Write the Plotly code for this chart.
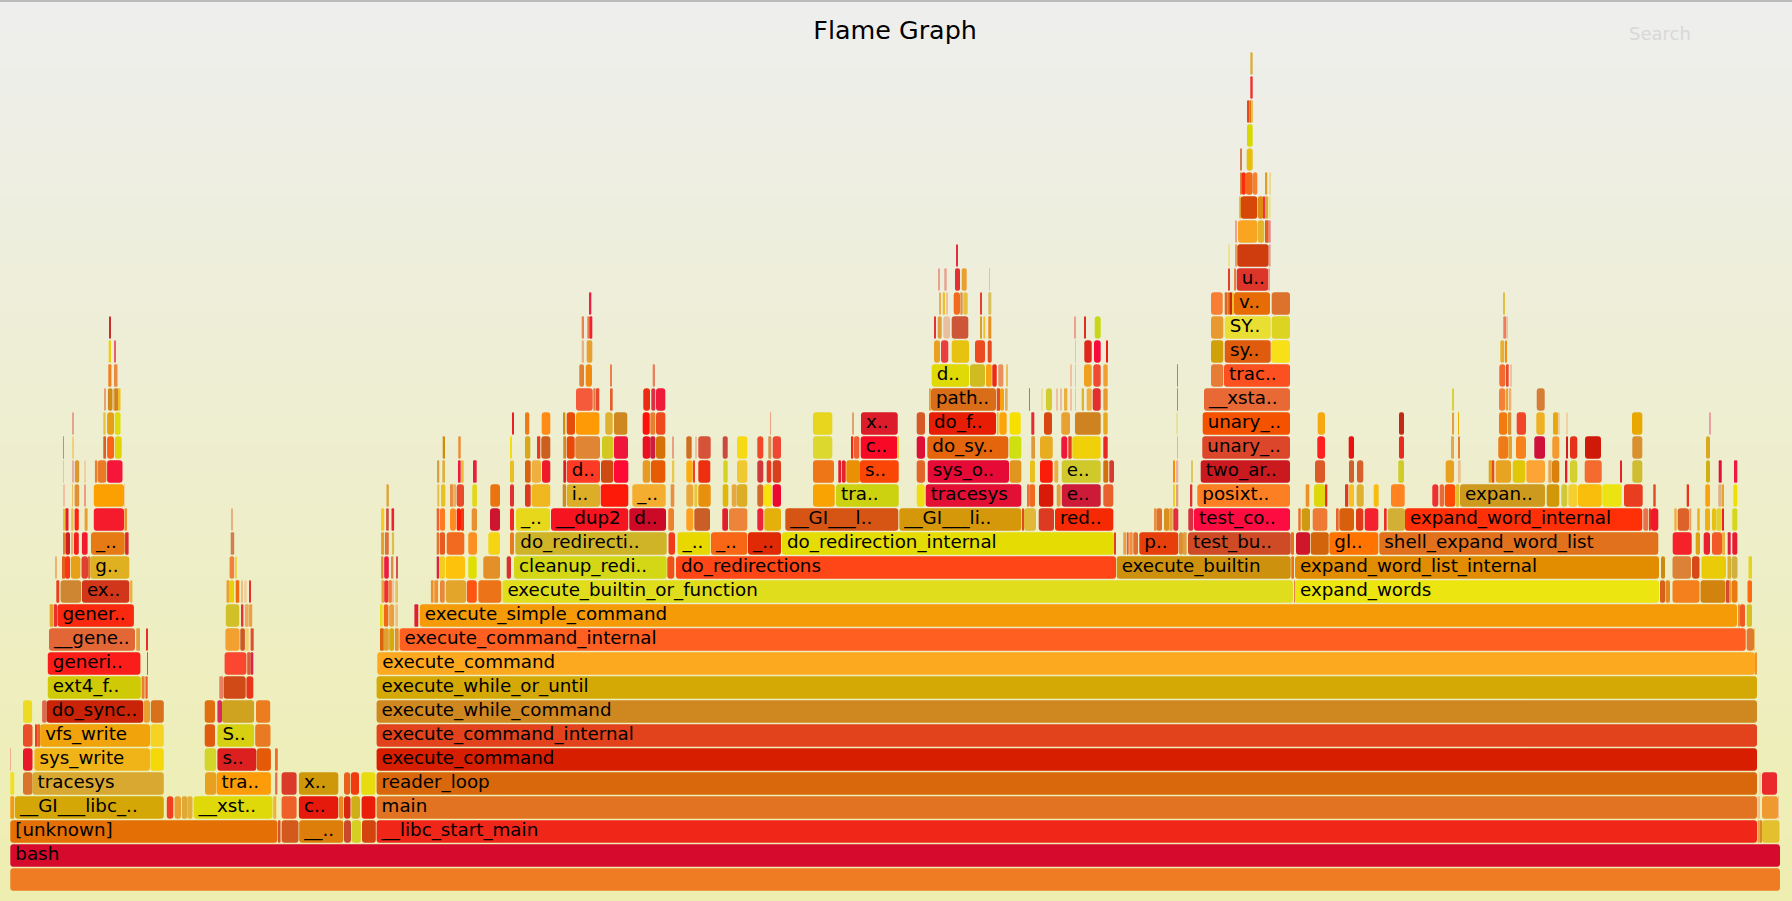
import plotly.graph_objects as go

# Frames per stack depth: (first sample, last sample), then the colour of each frame
spans_0 = [(10.3, 1780)]
colors_0 = ["#ef7b22"]
spans_1 = [(10.3, 1780)]
colors_1 = ["#d60a2c"]
spans_2 = [(10.3, 277.4), (278, 280.5), (281.6, 298.5), (299.2, 343.3), (344, 351), (351.7, 360.9), (362, 375.8), (376.6, 1757), (1757.5, 1759.5), (1759.5, 1762), (1762, 1779.5)]
colors_2 = ["#e36f05", "#d9502a", "#d35a1c", "#dd7d0a", "#c84a2a", "#d4cf22", "#d4440f", "#f02618", "#e8a040", "#d8882a", "#e3c02d"]
spans_3 = [(10.3, 14.2), (14.9, 163.8), (166.8, 173.3), (174.5, 181), (181.8, 187.5), (187.5, 192.5), (193.6, 272.5), (273.2, 276.3), (281.6, 296.6), (298.9, 338.3), (339, 343.3), (344, 350.5), (351.3, 360), (361.6, 375.4), (376.6, 1757), (1757.5, 1760), (1762, 1778), (1778, 1779)]
colors_3 = ["#f59a10", "#d4a707", "#f04020", "#e8a030", "#e0a835", "#e3b13a", "#dfd90a", "#eeb040", "#ef5f2a", "#e5190c", "#e88a20", "#d8280f", "#cfae18", "#ea1d0a", "#e27322", "#f0c090", "#ef9a30", "#f0c090"]
spans_4 = [(10.3, 14.2), (23, 32.5), (32.5, 163.8), (205, 216.2), (216.6, 270.9), (275.1, 277.4), (281.6, 296.6), (298.9, 338.3), (344, 350.2), (350.9, 359), (361.3, 375.4), (376.6, 1757), (1759.5, 1761), (1762, 1777)]
colors_4 = ["#f0e020", "#d8752a", "#d8a831", "#e8a020", "#fb9c08", "#e07050", "#d93a2a", "#cf980a", "#e86020", "#f03a10", "#e8dc10", "#d9680c", "#f3d3a0", "#ea2a2a"]
spans_5 = [(10.3, 11), (23, 32.5), (34.4, 150), (150.4, 163.8), (204.7, 216.2), (217.4, 256.4), (256.8, 270.9), (275.9, 277.8), (376.6, 1757)]
colors_5 = ["#f0b090", "#e8182a", "#f0b418", "#f5d80a", "#d4d52a", "#dc2020", "#e55a08", "#f06a30", "#d81e00"]
spans_6 = [(23, 32.5), (35.2, 37.1), (37.1, 40.2), (40.2, 150), (150.4, 163.8), (204.7, 215), (217.4, 254.1), (255.2, 270.5), (376.6, 1757)]
colors_6 = ["#eb4d28", "#e64020", "#e8602a", "#f0a30a", "#f5d325", "#e05a10", "#d6d010", "#ea7a22", "#e2431c"]
spans_7 = [(23, 32.1), (42.1, 46.7), (46.7, 143.1), (143.5, 150), (150.8, 163.8), (204.7, 215), (217.4, 222), (222, 254.1), (256, 270.2), (376.6, 1757)]
colors_7 = ["#ecdb22", "#dc6a50", "#c92308", "#e8a030", "#d8701c", "#e0700f", "#d82a60", "#cfa31f", "#eb7d20", "#cf8720"]
spans_8 = [(47.8, 140.8), (141.6, 144.6), (145.4, 147.7), (219.3, 223), (223.5, 245.7), (246.4, 253.3), (376.6, 1757)]
colors_8 = ["#cfca05", "#e88030", "#e8602a", "#e88060", "#d04a18", "#e8361a", "#d4a906"]
spans_9 = [(47.8, 140.4), (147, 147.7), (224.6, 246.4), (247.2, 250.6), (250.6, 253.3), (377.3, 1755), (1755, 1756.5)]
colors_9 = ["#fb1d1a", "#e05030", "#fb4630", "#e05a30", "#d8284a", "#fca91f", "#f39030"]
spans_10 = [(49, 135), (136.2, 140), (146.6, 147.7), (225.4, 239.5), (240.3, 244.9), (245.3, 248.7), (250.6, 253.7), (380, 383.8), (383.8, 388.8), (389.2, 394.1), (394.9, 398.7), (399.5, 1745.7), (1746.7, 1754), (1754, 1755)]
colors_10 = ["#e36636", "#e0a040", "#e8302a", "#f2a030", "#cc5a25", "#f3d070", "#e05030", "#d8650c", "#dfa030", "#d8a810", "#e09030", "#ff5f20", "#e07a30", "#e8c060"]
spans_11 = [(49.7, 53.6), (54, 57), (57.4, 133.9), (225.8, 239.2), (241.5, 243.4), (244.9, 248.7), (249.1, 252.2), (380, 382.7), (383.8, 388.4), (389.2, 394.1), (395.3, 398), (414.4, 418.3), (419.8, 1737), (1738.5, 1740), (1740, 1745), (1746.7, 1752)]
colors_11 = ["#e8a028", "#e83030", "#f8290f", "#d2c028", "#e83030", "#f0a860", "#e8a040", "#ecdc20", "#ef6a18", "#e8a040", "#f0c080", "#e02030", "#f59b08", "#e89030", "#f05a20", "#d4c020"]
spans_12 = [(56.3, 59.3), (60.5, 81.1), (81.9, 129.3), (130.1, 132.4), (226.5, 229.6), (229.6, 234.2), (235.7, 239.2), (241.1, 243), (244.9, 246.8), (249.1, 250.6), (381.5, 384.2), (384.2, 388.4), (388.4, 391.9), (392.2, 394.1), (395.3, 398), (430.9, 433.6), (434.3, 438.1), (440, 444.7), (445.8, 466.1), (466.8, 476.8), (478.3, 501.3), (502.4, 1293), (1294, 1295), (1295, 1659), (1660, 1665), (1665.5, 1670), (1672.5, 1699.5), (1700.5, 1725.5), (1726, 1729.5), (1729.5, 1730.5), (1731.5, 1737.5), (1747.5, 1752)]
colors_12 = ["#e84020", "#ce8632", "#d1361a", "#e8b040", "#e8a030", "#e8d010", "#f06a10", "#e8c080", "#f0d0a0", "#e83030", "#e8a040", "#f03030", "#f08040", "#f0c0a0", "#e8c060", "#e89030", "#f0902a", "#e88838", "#e3a62a", "#ff5510", "#ed7318", "#dfdd1c", "#e8805a", "#ece50f", "#d8601c", "#e08a20", "#f47f1d", "#d1830e", "#d84a30", "#e8a030", "#e87a10", "#ff6a10"]
spans_13 = [(55.9, 57), (62, 65), (65, 70), (70.8, 80.4), (81.5, 88), (88.8, 90.3), (90.3, 129.3), (229.6, 234.2), (235.7, 236.5), (381.1, 383.4), (384.2, 388.8), (391.5, 393.4), (396.4, 398), (436.7, 439), (439.3, 445), (445.7, 465), (468.3, 476.7), (483.3, 500), (506.7, 511), (514, 666.7), (667.3, 674.3), (676, 1116), (1116.7, 1290.7), (1291.3, 1294), (1295, 1659), (1661, 1665), (1672.5, 1691), (1692, 1699.5), (1701.5, 1726), (1727.5, 1731), (1731.5, 1737.5), (1748.5, 1752)]
colors_13 = ["#f0b070", "#e06020", "#ff3410", "#e8a018", "#e04030", "#e07040", "#dfb01f", "#f0803a", "#e8d850", "#e09030", "#ee1a40", "#e08a50", "#d85050", "#e02040", "#f5cc20", "#fdc30c", "#dfe000", "#e39028", "#d83030", "#d3d716", "#f0501a", "#fe4616", "#cd910e", "#e8701c", "#e28c00", "#ce8a10", "#dc8236", "#d64a18", "#e9cb08", "#dbb030", "#d0b040", "#e3d41c"]
spans_14 = [(63.5, 65), (65.4, 70), (71.2, 72.7), (73.9, 78.8), (81.9, 87.6), (91, 124.7), (125.1, 128.6), (230.7, 234.2), (381.1, 384.2), (385, 388.8), (391.9, 394.1), (436.7, 439), (439.7, 445), (446.7, 464.3), (468.3, 477), (488.3, 500), (510, 514), (515.3, 666.7), (668.5, 675), (677.5, 710.3), (711, 747.3), (748, 781), (782, 1114), (1114.7, 1116), (1123.3, 1126), (1126.7, 1128.7), (1129.3, 1132.7), (1133.3, 1138), (1139.3, 1178.3), (1179, 1183), (1183, 1186.7), (1188, 1290.7), (1291, 1294), (1296, 1310), (1310.7, 1328.7), (1329.3, 1378.3), (1379.3, 1658.3), (1672.7, 1691.7), (1695.7, 1700), (1703.7, 1710), (1712, 1722), (1722, 1725), (1727.7, 1730.7), (1732.3, 1737.3)]
colors_14 = ["#e08030", "#d01f1f", "#f0b070", "#ef2020", "#f21a30", "#e67a14", "#d82a30", "#d08050", "#e0a030", "#e07040", "#d8c050", "#e87030", "#e75b20", "#f26a20", "#fc9020", "#f5d414", "#e87a20", "#d0b428", "#f03a18", "#e9d800", "#f76715", "#e02a05", "#e4dc02", "#e04020", "#e8a040", "#e86030", "#f09040", "#e07030", "#e63f0c", "#d89030", "#e0a040", "#ce4b26", "#e8701c", "#d0162b", "#d2640b", "#ff7300", "#e2711d", "#f5222a", "#dea010", "#ea2030", "#f05a28", "#f0b040", "#dc1c40", "#e81c30"]
spans_15 = [(63.5, 65), (65.4, 68.5), (71.2, 73.5), (74.6, 78.8), (84.6, 87.6), (93.8, 124), (124.4, 127), (231.1, 232.3), (381.1, 384.2), (386.1, 388.8), (391.5, 394.1), (436.7, 439.3), (440, 445), (450, 456), (456.7, 461), (461, 464), (471.7, 477), (490, 500), (510, 514), (516, 550), (551, 628.3), (629.3, 666), (668.3, 674), (686.3, 693.3), (694.3, 710), (722.3, 728), (729, 747.3), (757.3, 763.3), (764.3, 781), (785.3, 898.3), (899.3, 1021.3), (1022, 1023.3), (1024, 1036), (1038.7, 1054), (1055, 1113.3), (1154, 1156.7), (1156.7, 1162), (1164, 1169.3), (1169.3, 1172.7), (1173.3, 1178.3), (1188.3, 1193.3), (1194, 1290), (1298.3, 1300.7), (1301.7, 1310), (1312.7, 1327.3), (1336, 1338.7), (1339.3, 1354), (1356, 1363.3), (1364.7, 1378.3), (1384, 1386.7), (1387.7, 1405), (1405, 1642.3), (1643.3, 1648.3), (1649, 1650.7), (1651, 1658.3), (1674.3, 1676.7), (1677.7, 1689), (1689.3, 1691.3), (1697.3, 1699.7), (1705, 1710), (1712, 1716), (1716.3, 1721.7), (1722, 1724), (1732.3, 1737.3)]
colors_15 = ["#e8c040", "#e81c2c", "#e8c050", "#ff2410", "#e8a030", "#f51a2c", "#ee9030", "#e8b080", "#f5ca20", "#d05040", "#ee2030", "#f06030", "#ff7a20", "#ff8a20", "#ff1a00", "#f03a10", "#e69030", "#cf1430", "#f02a20", "#e8d81c", "#f5141f", "#cc0a28", "#f0802a", "#ffa020", "#c95e26", "#e01f2a", "#ec843a", "#f0223a", "#e6b00c", "#d65514", "#d4980a", "#e04a20", "#e1b838", "#dc3a22", "#f52a05", "#e89040", "#e07030", "#d8901c", "#e8a040", "#e03040", "#d83040", "#fd0c42", "#f06a20", "#d09a10", "#ee7a35", "#e8602a", "#d8600c", "#e03a18", "#f5222e", "#e83028", "#d3b035", "#ff3008", "#e8704a", "#e83020", "#f0182a", "#f0b040", "#dc612a", "#e8a060", "#e8b020", "#eeb018", "#e8c010", "#e0d030", "#ee2020", "#d4d818"]
spans_16 = [(63.5, 64.2), (72, 73), (74.6, 79.2), (84.6, 86), (93.8, 124), (124.4, 125), (386.5, 388.8), (437.3, 439.3), (441, 445.3), (450, 453.3), (453.3, 456), (456.7, 464), (472.3, 477), (490.3, 500), (510, 514), (525, 530.7), (531.7, 550.3), (562.7, 566), (566.7, 600), (600.7, 628.3), (632.3, 665.7), (670.7, 674.3), (686.3, 693.3), (694.3, 697.3), (698.3, 710.7), (722.7, 728.3), (731.7, 736.7), (737, 747.3), (757.3, 763.3), (764, 772), (772.7, 781), (813, 834.7), (836, 898.7), (916.7, 924.7), (925.7, 1021.3), (1027.7, 1029.3), (1029.3, 1035), (1039, 1053.3), (1056.7, 1060.7), (1061.7, 1100.7), (1103.3, 1113.3), (1173.3, 1175), (1176, 1178.3), (1190.7, 1192.3), (1197.3, 1290), (1305.7, 1309.3), (1314, 1325), (1325.7, 1327.3), (1345, 1348.3), (1349, 1354), (1356.7, 1363.7), (1373.7, 1378.7), (1391, 1404.7), (1432.3, 1438.3), (1439.7, 1444), (1444.7, 1455.3), (1456, 1459.3), (1460, 1545), (1546.7, 1559.3), (1561.3, 1567.3), (1568.3, 1577.3), (1578, 1601.7), (1602.3, 1621.7), (1624, 1642.7), (1653.3, 1655.7), (1686.7, 1689), (1705.3, 1710), (1718.3, 1721.7), (1722, 1723.3), (1733.3, 1737.3)]
colors_16 = ["#f0c0a0", "#f0c060", "#e09038", "#e8a080", "#fba000", "#f0d0a0", "#e0a030", "#e8c040", "#e8c020", "#e89040", "#e8b060", "#e84a2a", "#e0d818", "#ea7410", "#e03030", "#dc3a1c", "#efb820", "#d08a20", "#dcae28", "#fe1a08", "#f5ad2f", "#e89040", "#eba83a", "#e8c838", "#e8900c", "#e0b80c", "#e8a840", "#dbae25", "#d8682a", "#f9e20c", "#ed0830", "#f9a303", "#ccd20f", "#efdb16", "#e30f35", "#e87040", "#f06a20", "#da1a08", "#e0a040", "#cd1a38", "#e8602e", "#f0d020", "#e0a080", "#e03030", "#fd7f23", "#f09020", "#dcd80c", "#e83020", "#e03a20", "#f8c020", "#e0b030", "#f8bc10", "#ff8420", "#ee3030", "#e86a3a", "#fe4c05", "#e0c030", "#cd9a1e", "#d09808", "#d0c838", "#f3d030", "#f9bd0c", "#ece410", "#ea3d20", "#e04a20", "#ee3020", "#fca00c", "#e0b080", "#e8a030", "#f0e000"]
spans_17 = [(63.5, 64), (72, 74.3), (75, 79.2), (84.6, 85.7), (94.9, 97.2), (97.6, 106.4), (107.1, 122.5), (437.7, 439.3), (442.3, 445), (458, 460.7), (461, 463.7), (473, 476.7), (510, 514), (525, 530.7), (531.7, 541), (542, 550.3), (563.3, 566), (566.7, 600), (601, 613.3), (614, 628.3), (642.7, 650.3), (651, 665.3), (672.7, 674.3), (686.3, 692.7), (693.3, 695), (698.3, 710.3), (723.3, 727.7), (737, 747.3), (757.3, 763.3), (766.7, 771.3), (772.7, 781), (813, 834), (838.3, 841), (841.7, 845.7), (846.3, 860), (860, 898.7), (916.7, 925), (927.7, 1009), (1009.7, 1021.3), (1030, 1035), (1040, 1052.7), (1054.3, 1058.3), (1061.7, 1100.7), (1103.3, 1108.3), (1109.3, 1114), (1173.3, 1175), (1176.7, 1178.3), (1191, 1192.7), (1200.7, 1290), (1315, 1325), (1349, 1354), (1357, 1363.3), (1398.3, 1404), (1445.7, 1454), (1458, 1460.7), (1488.7, 1491.7), (1491.7, 1494.3), (1495.7, 1511), (1512.7, 1525.3), (1526.3, 1545), (1548.3, 1551.7), (1552, 1559.3), (1565, 1567.3), (1570, 1577.3), (1584.7, 1601.7), (1620.3, 1621.7), (1632.3, 1642.3), (1706, 1710), (1718.7, 1721.7), (1734, 1737.3)]
colors_17 = ["#f0c0a0", "#e8b0a0", "#d89a30", "#f0d0a0", "#e88030", "#ea7a28", "#f5163a", "#d8a040", "#e0b040", "#ee1a40", "#e8c030", "#e8203a", "#e8c020", "#d8640f", "#f0b040", "#ee1a2a", "#d8202a", "#fd3a25", "#cf4a12", "#ff0a35", "#e89a25", "#e65c05", "#e8c850", "#fcae10", "#f04030", "#ee2e10", "#d4d420", "#f0c832", "#d0383a", "#e83a20", "#d83f1e", "#ee7616", "#e02030", "#e8202a", "#ea9005", "#fa4606", "#e4652a", "#e60a36", "#e0961e", "#e8c020", "#fa1e0a", "#e8b040", "#cfc92c", "#d0700f", "#d83a30", "#ff8a0a", "#e8b0a0", "#e0c860", "#ca1a20", "#da5a28", "#cf6030", "#d8602c", "#cfcc28", "#e8a020", "#e8c090", "#e0a818", "#e84a20", "#e8a322", "#e0c808", "#fca535", "#e8a850", "#da800c", "#e81e20", "#d4d030", "#f56a2e", "#e8202a", "#d0bc30", "#d0b010", "#e0103a", "#ef1a40"]
spans_18 = [(63.5, 64), (72, 73.5), (103.3, 106), (107.1, 114), (114.8, 121.7), (442.7, 445), (458.3, 460.7), (510.3, 512), (525, 530.3), (537, 540.3), (541.3, 550.3), (563.3, 566), (566.7, 574.7), (575.3, 600), (602, 613.3), (614, 628), (642.7, 650.3), (650.3, 655.3), (656, 665.3), (672.3, 673.3), (686.3, 691.7), (695.3, 696.7), (698.3, 710.7), (722.7, 727.7), (737, 747.3), (757.3, 763.3), (768.3, 771.3), (772.7, 781), (813, 832.3), (851, 853.3), (854, 859.3), (860.7, 897.7), (897.7, 899), (916.7, 925), (927.3, 1008.3), (1009.3, 1021.3), (1031.3, 1035), (1040, 1052.7), (1061.3, 1067.3), (1068.3, 1071.7), (1072.3, 1100.7), (1103.3, 1107.7), (1177, 1178), (1202.3, 1290), (1317.3, 1325), (1348.7, 1354), (1399, 1404), (1451, 1454), (1458, 1459.3), (1498.3, 1508), (1508.3, 1512), (1516, 1526), (1534.3, 1545), (1552.3, 1559.3), (1566, 1567.3), (1570, 1577.3), (1585, 1601), (1632.3, 1642.3), (1706, 1710)]
colors_18 = ["#e08070", "#f0d080", "#d86020", "#ff6018", "#e0d408", "#d08a10", "#f08a30", "#f0e010", "#d8a818", "#e83a20", "#cc5e20", "#d08a20", "#e84808", "#df8534", "#d2c820", "#f0153a", "#ea1020", "#d01a40", "#d47208", "#e8a080", "#cf7020", "#f0c0a0", "#d65238", "#cb4a40", "#f5da14", "#f04828", "#d89050", "#ee4834", "#dcd82e", "#ee2a10", "#f06030", "#f80a26", "#e8d040", "#de1038", "#e4650c", "#cfe010", "#e09838", "#e8ac20", "#f01838", "#e83a20", "#f0d008", "#e82820", "#e0c060", "#dc472c", "#ff2020", "#e81010", "#e82a20", "#e0a850", "#e88030", "#ee7a18", "#e8a030", "#f5821a", "#cf103a", "#f59a30", "#cc2020", "#e6321a", "#cf1a0a", "#d9902e", "#d8a820"]
spans_19 = [(72, 73.5), (103.3, 105.6), (107.1, 114), (114.8, 120.5), (512.3, 513.7), (525, 529.3), (541.7, 550.3), (563, 565.3), (566.7, 575), (576, 599.3), (605.3, 612.7), (614, 627.3), (642.7, 649.7), (650.3, 655.3), (656, 665.3), (770, 771), (813, 832.3), (852.7, 854), (861, 897.7), (916.7, 925), (929, 996), (996.7, 998.7), (999.3, 1006.7), (1009.7, 1020.7), (1031.3, 1034.3), (1044, 1052), (1061.3, 1070), (1075, 1100.7), (1103.3, 1107.7), (1176.7, 1177.7), (1202.7, 1290), (1317.7, 1325), (1399, 1404), (1452.7, 1454), (1458, 1458.7), (1499, 1507.3), (1508, 1511.3), (1516.7, 1526), (1536.3, 1544.7), (1553, 1558.3), (1558.7, 1560), (1566, 1567.7), (1632, 1642.3), (1709.3, 1710.7)]
colors_19 = ["#e8a090", "#e8c040", "#e5a015", "#e0dc08", "#e8202a", "#ee7a18", "#ff8a14", "#d09010", "#e84c08", "#fd9a05", "#e0b030", "#cf8820", "#ff1008", "#e88030", "#ee4a1e", "#e8a080", "#e8d51e", "#e0a070", "#dc1c2a", "#d65a28", "#e71e05", "#e8c040", "#fca50a", "#f7e000", "#e82a30", "#d64810", "#e8a030", "#cf8320", "#e8a820", "#e8e0a0", "#f55200", "#f5a80f", "#c22a18", "#e0a040", "#f0b000", "#f47a10", "#d89030", "#f2452a", "#eeb020", "#e8a810", "#f0d0a0", "#f3d0a0", "#e8a800", "#e8a0a0"]
spans_20 = [(104, 106), (107.9, 112.5), (113, 114.4), (114.4, 118), (118, 120.5), (576, 592.7), (593.3, 595.7), (596, 599.3), (610, 612.7), (643.3, 650), (651.3, 655.3), (656, 665.3), (929, 931), (931, 996), (996.7, 1000), (1000, 1004), (1005, 1007.7), (1029.3, 1030), (1041.7, 1042.7), (1046, 1052), (1056.7, 1057.3), (1060, 1061.3), (1064, 1067.3), (1070.7, 1071.3), (1075, 1075.7), (1081.7, 1084), (1086.7, 1091.7), (1092.7, 1100.7), (1103.3, 1107.7), (1177, 1178), (1204, 1290), (1452.7, 1453.7), (1499, 1505.3), (1506, 1507.7), (1508.7, 1511.3), (1536.7, 1544.7)]
colors_20 = ["#e8a070", "#d08a18", "#e8c040", "#d08030", "#f0c020", "#f55a3a", "#e08040", "#e84a30", "#e06030", "#ee2a10", "#d83040", "#f01a3a", "#e8a040", "#d96d18", "#e04a20", "#f8a010", "#e0b060", "#e06050", "#f0e0a0", "#d2cc30", "#f0c0a0", "#e8c0a0", "#e8b040", "#f0c0a0", "#f0c0a0", "#e0b030", "#f0b040", "#e32e2e", "#e89a30", "#e07070", "#e86836", "#d8d040", "#f5803a", "#e8a030", "#f0b070", "#d67e38"]
spans_21 = [(108.3, 111.4), (114, 117.5), (579.3, 584), (585.7, 592), (610, 611.7), (652.7, 655), (931.7, 969), (970, 985), (986, 991.7), (992.3, 996.7), (998.3, 1003.3), (1006, 1007.7), (1070.7, 1072), (1075, 1076), (1084, 1091.7), (1093.3, 1100.7), (1103.3, 1107.7), (1177, 1178), (1211, 1223.3), (1224, 1290), (1499.3, 1505.3), (1506, 1508.7), (1510, 1511.7)]
colors_21 = ["#f08020", "#e88a40", "#e08030", "#f08a10", "#e88050", "#e88060", "#dfd906", "#d1bb23", "#f5a510", "#f02a10", "#e89060", "#e8c060", "#f0c0a0", "#f0c0a0", "#eea020", "#f04a30", "#f0a030", "#e07050", "#e67c36", "#fd5020", "#f56a30", "#e84a30", "#f0c0a0"]
spans_22 = [(108.7, 111), (114.4, 116), (581.7, 584), (586.7, 592.3), (934, 940), (941, 948.3), (951.7, 969), (975, 985), (987.7, 991.7), (1075, 1076), (1084.3, 1091.7), (1094, 1100.7), (1106, 1107.7), (1211, 1223.3), (1224.7, 1270.7), (1271.3, 1290), (1500.3, 1504.3), (1505, 1506.7)]
colors_22 = ["#ecd010", "#e8606a", "#e8b080", "#e8a030", "#e8a020", "#e84040", "#e7c30f", "#ee4a20", "#e84a20", "#f0c0a0", "#e0281a", "#f80a3a", "#f01a10", "#d1a10a", "#df5c0f", "#f8e018", "#e8b030", "#f09010"]
spans_23 = [(109.4, 110.6), (581.7, 584), (587.3, 589.3), (589.3, 592.3), (934, 935.3), (937.7, 941.7), (943.3, 950), (951.7, 968.3), (980, 982), (983.3, 985.3), (988.3, 991.3), (1074.3, 1075.7), (1084.3, 1085.3), (1094.7, 1100.7), (1211, 1223.3), (1224.7, 1270.7), (1271.7, 1290), (1503.3, 1506), (1506, 1507.3)]
colors_23 = ["#c8302a", "#e88050", "#e88050", "#f02030", "#e83030", "#e0a040", "#e8c0a0", "#cd5638", "#d8a020", "#f0c030", "#e89020", "#e8a090", "#d83020", "#c8d818", "#e89a30", "#e9df32", "#dcd420", "#e88060", "#f0c0a0"]
spans_24 = [(589.7, 591.3), (939.3, 941), (942.7, 945), (946, 947.3), (953.7, 960), (960.3, 962.7), (963.3, 967.7), (980, 982), (988.3, 991.3), (1211, 1222.7), (1224.7, 1227.3), (1227.3, 1229.3), (1229.3, 1232), (1232, 1233.3), (1234, 1270), (1271.7, 1290), (1503.3, 1504.7)]
colors_24 = ["#ee2040", "#e8b050", "#e8c030", "#f0c0a0", "#f06a20", "#e09040", "#e8c040", "#e8402a", "#d8c060", "#f77e32", "#d86a20", "#e87020", "#c82a08", "#f0c030", "#e86c05", "#dd722c", "#e0c040"]
spans_25 = [(938.7, 940), (944.3, 946.7), (955, 960), (961.7, 966.7), (989, 990), (1228, 1230), (1234, 1236), (1236.7, 1268.3), (1268.7, 1270)]
colors_25 = ["#e8a090", "#e8a090", "#e03030", "#e8a030", "#f0c080", "#e0402a", "#e88040", "#de352a", "#e8a090"]
spans_26 = [(956.3, 957.7), (1228, 1229.3), (1235.7, 1237.3), (1237.3, 1268.7), (1268.7, 1270.7)]
colors_26 = ["#e03040", "#f0e090", "#e8a060", "#cf3c0e", "#e0a090"]
spans_27 = [(1235, 1237), (1238, 1257.3), (1257.7, 1264.3), (1265, 1268.7), (1268.7, 1270.7)]
colors_27 = ["#f0a090", "#f9a521", "#e5b42c", "#e06020", "#f08090"]
spans_28 = [(1239.3, 1240.7), (1240.7, 1257.3), (1258, 1263.3), (1263.3, 1265), (1265, 1268), (1268.3, 1270.7)]
colors_28 = ["#e8c040", "#d54808", "#e08a14", "#f03050", "#d8b030", "#f0e090"]
spans_29 = [(1240, 1241.7), (1241.7, 1245.7), (1245.7, 1252.7), (1253, 1257.3), (1265.7, 1267.3), (1269, 1270.7)]
colors_29 = ["#d08a40", "#ff2a10", "#f06a18", "#f58030", "#e0a020", "#f0d890"]
spans_30 = [(1240, 1241.7), (1246.7, 1252.7)]
colors_30 = ["#d08050", "#e6c00a"]
spans_31 = [(1247, 1252.7)]
colors_31 = ["#d8d803"]
spans_32 = [(1247, 1249.3), (1249.3, 1251.7), (1251.7, 1252.7)]
colors_32 = ["#e84a20", "#d87a10", "#e8c050"]
spans_33 = [(1250.3, 1252.7)]
colors_33 = ["#f03030"]
spans_34 = [(1250.3, 1252.7)]
colors_34 = ["#d8b040"]

all_spans = [spans_0, spans_1, spans_2, spans_3, spans_4, spans_5, spans_6, spans_7, spans_8, spans_9,
             spans_10, spans_11, spans_12, spans_13, spans_14, spans_15, spans_16, spans_17, spans_18, spans_19,
             spans_20, spans_21, spans_22, spans_23, spans_24, spans_25, spans_26, spans_27, spans_28, spans_29,
             spans_30, spans_31, spans_32, spans_33, spans_34]
all_colors = [colors_0, colors_1, colors_2, colors_3, colors_4, colors_5, colors_6, colors_7, colors_8, colors_9,
              colors_10, colors_11, colors_12, colors_13, colors_14, colors_15, colors_16, colors_17, colors_18, colors_19,
              colors_20, colors_21, colors_22, colors_23, colors_24, colors_25, colors_26, colors_27, colors_28, colors_29,
              colors_30, colors_31, colors_32, colors_33, colors_34]

# Frame names that fit in their box
label_levels = [1, 2, 2, 2, 3, 3, 3, 3, 4, 4, 4, 4, 5, 5, 5, 6, 6, 6, 7, 7, 8, 8, 9, 9, 10, 10, 11, 11, 12, 12, 12,
                13, 13, 13, 13, 13, 14, 14, 14, 14, 14, 14, 14, 14, 14, 14,
                15, 15, 15, 15, 15, 15, 15, 15, 16, 16, 16, 16, 16, 16, 16,
                17, 17, 17, 17, 17, 18, 18, 18, 19, 19, 19, 20, 20, 21, 21, 22, 23, 24, 25]
label_starts = [10.3, 10.3, 299.2, 376.6, 14.9, 193.6, 298.9, 376.6, 32.5, 216.6, 298.9, 376.6, 34.4, 217.4, 376.6,
                40.2, 217.4, 376.6, 46.7, 376.6, 47.8, 376.6, 47.8, 377.3, 49, 399.5, 57.4, 419.8, 81.9, 502.4, 1295,
                90.3, 514, 676, 1116.7, 1295, 91, 515.3, 677.5, 711, 748, 782, 1139.3, 1188, 1329.3, 1379.3,
                516, 551, 629.3, 785.3, 899.3, 1055, 1194, 1405, 566.7, 632.3, 836, 925.7, 1061.7, 1197.3, 1460,
                566.7, 860, 927.7, 1061.7, 1200.7, 860.7, 927.3, 1202.3, 861, 929, 1202.7, 931, 1204, 931.7, 1224, 1225, 1224.7, 1234, 1236.7]
label_names = ["bash", "[unknown]", "__..", "__libc_start_main", "__GI___libc_..", "__xst..", "c..", "main",
               "tracesys", "tra..", "x..", "reader_loop", "sys_write", "s..", "execute_command",
               "vfs_write", "S..", "execute_command_internal", "do_sync..", "execute_while_command",
               "ext4_f..", "execute_while_or_until", "generi..", "execute_command",
               "__gene..", "execute_command_internal", "gener..", "execute_simple_command", "ex..", "execute_builtin_or_function", "expand_words",
               "g..", "cleanup_redi..", "do_redirections", "execute_builtin", "expand_word_list_internal",
               "_..", "do_redirecti..", "_..", "_..", "_..", "do_redirection_internal", "p..", "test_bu..", "gl..", "shell_expand_word_list",
               "_..", "__dup2", "d..", "__GI___l..", "__GI___li..", "red..", "test_co..", "expand_word_internal",
               "i..", "_..", "tra..", "tracesys", "e..", "posixt..", "expan..",
               "d..", "s..", "sys_o..", "e..", "two_ar..", "c..", "do_sy..", "unary_..", "x..", "do_f..", "unary_..",
               "path..", "__xsta..", "d..", "trac..", "sy..", "SY..", "v..", "u.."]

levels, starts, widths, colors = [], [], [], []
for level, (row_spans, row_colors) in enumerate(zip(all_spans, all_colors, strict=True)):
    for (a, b), c in zip(row_spans, row_colors, strict=True):
        levels.append(level)
        starts.append(a)
        widths.append(b - a)
        colors.append(c)

fig = go.Figure()

# Background gradient sits in the heatmap layer, under the bars
fig.add_trace(go.Heatmap(
    x=[0, 1792], y=[-0.896, 36.646], z=[[0, 0], [1, 1]],
    colorscale=[[0, "#eeeeb0"], [1, "#eeeeee"]],
    zsmooth="best", showscale=False, hoverinfo="skip",
))

fig.add_trace(go.Bar(
    orientation="h", y=levels, x=widths, base=starts, width=0.933,
    marker=dict(color=colors, cornerradius=3, line=dict(width=0)),
    hoverinfo="skip",
))

fig.add_trace(go.Scatter(
    x=[s + 5 for s in label_starts], y=label_levels, text=label_names,
    mode="text", textposition="middle right",
    textfont=dict(family="DejaVu Sans", size=18.3, color="#000000"),
    hoverinfo="skip",
))

fig.update_layout(
    width=1792, height=901,
    margin=dict(l=0, r=0, t=0, b=0),
    showlegend=False, barmode="overlay",
    paper_bgcolor="#eeeeee",
    xaxis=dict(range=[0, 1792], visible=False, fixedrange=True),
    yaxis=dict(range=[-0.896, 36.646], visible=False, fixedrange=True),
    title=dict(text="Flame Graph", x=0.4995, xanchor="center", y=0.967, yanchor="middle",
               font=dict(family="DejaVu Sans", size=25.4, color="#000000")),
    annotations=[dict(text="Search", xref="paper", yref="paper", x=0.9263, y=0.9633, xanchor="center", yanchor="middle",
                      showarrow=False, font=dict(family="DejaVu Sans", size=18, color="#d8d8d8"))],
    shapes=[dict(type="rect", xref="paper", yref="paper", x0=0, x1=1, y0=0.9978, y1=1,
                 fillcolor="#bbbbbb", line=dict(width=0))],
)

fig.write_html("out.html", config=dict(displayModeBar=False),
               post_script="document.body.style.margin='0';document.body.style.overflow='hidden';")
